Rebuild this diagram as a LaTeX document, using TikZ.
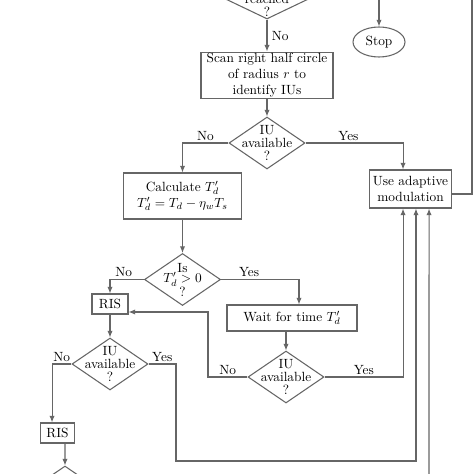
\documentclass[tikz,border=0pt]{standalone}
\usetikzlibrary{shapes.geometric, arrows.meta}
\definecolor{flowgray}{gray}{0.4}
\tikzset{
  box/.style={draw=flowgray, line width=0.8pt, rectangle, align=center, inner xsep=2pt, inner ysep=1pt},
  decision/.style={draw=flowgray, line width=0.8pt, diamond, inner sep=0pt, minimum width=57pt, minimum height=39pt},
  dtext/.style={align=center, inner sep=0pt},
  flow/.style={draw=flowgray, line width=0.8pt, -{Latex[length=5pt,width=4pt]}},
  line/.style={draw=flowgray, line width=0.8pt},
  yn/.style={above, inner sep=1.5pt, text=black},
}
\begin{document}
\begin{tikzpicture}[x=0.75pt, y=-0.75pt]
\useasboundingbox (0,0) rectangle (474,474);
\clip (0,0) rectangle (474,474);

% nodes
\node[decision, minimum width=75pt, minimum height=36pt, label={[dtext, yshift=-8pt]center:reached\\[-2pt]?}] (reach) at (267,-5) {};
\node[draw=flowgray, line width=0.8pt, ellipse, inner sep=0pt, minimum width=39pt, minimum height=22.5pt] (stop) at (379,42) {Stop};
\node[box, minimum width=99pt, minimum height=34pt] (scan) at (267,75.5) {Scan right half circle\\of radius $r$ to\\identify IUs};
\node[decision, label={[dtext]center:IU\\[-2pt]available\\[-2pt]?}] (iu1) at (267,143) {};
\node[box, minimum width=88.5pt, minimum height=34.5pt] (calc) at (182.5,196) {Calculate $T'_d$\\$T'_d = T_d - \eta_w T_s$};
\node[box, minimum width=61pt, minimum height=28.5pt] (adapt) at (410.5,189) {Use adaptive\\modulation};
\node[decision, label={[dtext]center:Is\\[-4pt]$T'_d > 0$\\[-2pt]?}] (isd) at (182.5,279.5) {};
\node[box, minimum width=27pt, minimum height=15pt] (ris1) at (110,304) {RIS};
\node[box, minimum width=97.5pt, minimum height=19.5pt] (wait) at (292,318) {Wait for time $T'_d$};
\node[decision, label={[dtext]center:IU\\[-2pt]available\\[-2pt]?}] (iu2) at (110,364) {};
\node[decision, label={[dtext]center:IU\\[-2pt]available\\[-2pt]?}] (iu3) at (286,377) {};
\node[box, minimum width=26pt, minimum height=15pt] (ris2) at (57.5,433) {RIS};
\node[decision] (next) at (65,492) {};

% loose ends outside the frame
\coordinate (stopin) at (379,-12);
\coordinate (loop) at (472,-12);
\coordinate (fromnext) at (429,490);

% connectors
\draw[flow] (reach.south) -- node[right, text=black] {No} (scan.north);
\draw[flow] (stopin) -- (stop.north);
\draw[flow] (scan.south) -- (iu1.north);
\draw[flow] (iu1.west) -| node[yn, pos=0.25] {No} (calc.north);
\draw[flow] (iu1.east) -| node[yn, pos=0.22] {Yes} ([xshift=-5.6pt]adapt.north);
\draw[line] ([yshift=-3.75pt]adapt.east) -| (loop);
\draw[flow] (calc.south) -- (isd.north);
\draw[flow] (isd.west) -| node[yn, pos=0.3] {No} (ris1.north);
\draw[flow] (isd.east) -| node[yn, pos=0.18] {Yes} ([xshift=5.25pt]wait.north);
\draw[flow] (wait.south -| iu3.north) -- (iu3.north);
\draw[flow] (iu3.west) -| node[yn, pos=0.25] {No} (208,312) -- ([yshift=-6pt]ris1.east);
\draw[flow] (iu3.east) -| node[yn, pos=0.25] {Yes} ([xshift=-5.6pt]adapt.south);
\draw[flow] (ris1.south) -- (iu2.north);
\draw[flow] (iu2.west) -| node[yn, pos=0.25] {No} ([xshift=-4.1pt]ris2.north);
\draw[flow] (iu2.east) -| node[yn, pos=0.25] {Yes} (176,461) -| ([xshift=4.1pt]adapt.south);
\draw[flow] ([xshift=5.6pt]ris2.south) -- (next.north);
\draw[flow] (fromnext) -- ([xshift=13.9pt]adapt.south);
\end{tikzpicture}
\end{document}
